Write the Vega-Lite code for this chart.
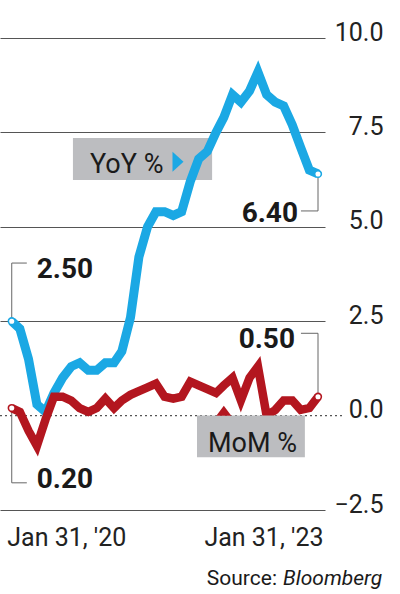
{
  "$schema": "https://vega.github.io/schema/vega-lite/v6.json",
  "description": "US CPI inflation, YoY % and MoM %, Jan 2020 to Jan 2023.",
  "width": 325,
  "height": 472,
  "autosize": {"type": "none"},
  "padding": {"left": 0, "top": 38, "right": 75, "bottom": 84},
  "background": "white",
  "config": {
    "view": {"stroke": null},
    "font": "Roboto, Liberation Sans, sans-serif"
  },
  "data": {
    "name": "cpi",
    "format": {"parse": {"date": "date"}},
    "values": [
      {"date": "2020-01-31T00:00:00", "yoy": 2.5, "mom": 0.2},
      {"date": "2020-02-29T00:00:00", "yoy": 2.3, "mom": 0.1},
      {"date": "2020-03-31T00:00:00", "yoy": 1.5, "mom": -0.4},
      {"date": "2020-04-30T00:00:00", "yoy": 0.3, "mom": -0.8},
      {"date": "2020-05-31T00:00:00", "yoy": 0.1, "mom": -0.1},
      {"date": "2020-06-30T00:00:00", "yoy": 0.6, "mom": 0.5},
      {"date": "2020-07-31T00:00:00", "yoy": 1.0, "mom": 0.5},
      {"date": "2020-08-31T00:00:00", "yoy": 1.3, "mom": 0.4},
      {"date": "2020-09-30T00:00:00", "yoy": 1.4, "mom": 0.2},
      {"date": "2020-10-31T00:00:00", "yoy": 1.2, "mom": 0.1},
      {"date": "2020-11-30T00:00:00", "yoy": 1.2, "mom": 0.2},
      {"date": "2020-12-31T00:00:00", "yoy": 1.4, "mom": 0.45},
      {"date": "2021-01-31T00:00:00", "yoy": 1.4, "mom": 0.2},
      {"date": "2021-02-28T00:00:00", "yoy": 1.7, "mom": 0.4},
      {"date": "2021-03-31T00:00:00", "yoy": 2.6, "mom": 0.55},
      {"date": "2021-04-30T00:00:00", "yoy": 4.2, "mom": 0.65},
      {"date": "2021-05-31T00:00:00", "yoy": 5.0, "mom": 0.75},
      {"date": "2021-06-30T00:00:00", "yoy": 5.4, "mom": 0.85},
      {"date": "2021-07-31T00:00:00", "yoy": 5.4, "mom": 0.5},
      {"date": "2021-08-31T00:00:00", "yoy": 5.3, "mom": 0.45},
      {"date": "2021-09-30T00:00:00", "yoy": 5.4, "mom": 0.5},
      {"date": "2021-10-31T00:00:00", "yoy": 6.2, "mom": 0.9},
      {"date": "2021-11-30T00:00:00", "yoy": 6.8, "mom": 0.8},
      {"date": "2021-12-31T00:00:00", "yoy": 7.0, "mom": 0.7},
      {"date": "2022-01-31T00:00:00", "yoy": 7.5, "mom": 0.6},
      {"date": "2022-02-28T00:00:00", "yoy": 7.9, "mom": 0.8},
      {"date": "2022-03-31T00:00:00", "yoy": 8.5, "mom": 1.0},
      {"date": "2022-04-30T00:00:00", "yoy": 8.3, "mom": 0.4},
      {"date": "2022-05-31T00:00:00", "yoy": 8.6, "mom": 1.0},
      {"date": "2022-06-30T00:00:00", "yoy": 9.1, "mom": 1.3},
      {"date": "2022-07-31T00:00:00", "yoy": 8.5, "mom": 0.0},
      {"date": "2022-08-31T00:00:00", "yoy": 8.3, "mom": 0.15},
      {"date": "2022-09-30T00:00:00", "yoy": 8.2, "mom": 0.4},
      {"date": "2022-10-31T00:00:00", "yoy": 7.7, "mom": 0.4},
      {"date": "2022-11-30T00:00:00", "yoy": 7.1, "mom": 0.15},
      {"date": "2022-12-31T00:00:00", "yoy": 6.5, "mom": 0.2},
      {"date": "2023-01-31T00:00:00", "yoy": 6.4, "mom": 0.5}
    ]
  },
  "layer": [
    {
      "data": {"values": [{}]},
      "mark": {"type": "rect", "color": "#bcbdc0"},
      "encoding": {
        "x": {"datum": {"year": 2020, "month": 9, "date": 6}, "type": "temporal"},
        "x2": {"datum": {"year": 2022, "month": 1, "date": 17}},
        "y": {"datum": 7.35, "type": "quantitative"},
        "y2": {"datum": 6.24}
      }
    },
    {
      "data": {"values": [{}]},
      "mark": {"type": "rule", "color": "#555555", "strokeDash": [2, 3], "strokeWidth": 1.3},
      "encoding": {
        "x": {"datum": {"year": 2019, "month": 12, "date": 20}, "type": "temporal"},
        "x2": {"datum": {"year": 2023, "month": 4, "date": 30}},
        "y": {"datum": 0, "type": "quantitative"}
      }
    },
    {
      "data": {"values": [{}]},
      "mark": {"type": "rule", "color": "#666666", "strokeWidth": 1},
      "encoding": {
        "x": {"datum": {"year": 2020, "month": 1, "date": 31}, "type": "temporal"},
        "y": {"datum": 2.5, "type": "quantitative"},
        "y2": {"datum": 4.04}
      }
    },
    {
      "data": {"values": [{}]},
      "mark": {"type": "rule", "color": "#666666", "strokeWidth": 1},
      "encoding": {
        "x": {"datum": {"year": 2020, "month": 1, "date": 31}, "type": "temporal"},
        "x2": {"datum": {"year": 2020, "month": 3, "date": 25}},
        "y": {"datum": 4.04, "type": "quantitative"}
      }
    },
    {
      "data": {"values": [{}]},
      "mark": {"type": "rule", "color": "#666666", "strokeWidth": 1},
      "encoding": {
        "x": {"datum": {"year": 2020, "month": 1, "date": 31}, "type": "temporal"},
        "y": {"datum": 0.2, "type": "quantitative"},
        "y2": {"datum": -1.78}
      }
    },
    {
      "data": {"values": [{}]},
      "mark": {"type": "rule", "color": "#666666", "strokeWidth": 1},
      "encoding": {
        "x": {"datum": {"year": 2020, "month": 1, "date": 31}, "type": "temporal"},
        "x2": {"datum": {"year": 2020, "month": 3, "date": 25}},
        "y": {"datum": -1.78, "type": "quantitative"}
      }
    },
    {
      "data": {"values": [{}]},
      "mark": {"type": "rule", "color": "#666666", "strokeWidth": 1},
      "encoding": {
        "x": {"datum": {"year": 2023, "month": 1, "date": 31}, "type": "temporal"},
        "y": {"datum": 6.4, "type": "quantitative"},
        "y2": {"datum": 5.42}
      }
    },
    {
      "data": {"values": [{}]},
      "mark": {"type": "rule", "color": "#666666", "strokeWidth": 1},
      "encoding": {
        "x": {"datum": {"year": 2022, "month": 12, "date": 1}, "type": "temporal"},
        "x2": {"datum": {"year": 2023, "month": 1, "date": 31}},
        "y": {"datum": 5.42, "type": "quantitative"}
      }
    },
    {
      "data": {"values": [{}]},
      "mark": {"type": "rule", "color": "#666666", "strokeWidth": 1},
      "encoding": {
        "x": {"datum": {"year": 2023, "month": 1, "date": 31}, "type": "temporal"},
        "y": {"datum": 0.5, "type": "quantitative"},
        "y2": {"datum": 2.18}
      }
    },
    {
      "data": {"values": [{}]},
      "mark": {"type": "rule", "color": "#666666", "strokeWidth": 1},
      "encoding": {
        "x": {"datum": {"year": 2022, "month": 12, "date": 1}, "type": "temporal"},
        "x2": {"datum": {"year": 2023, "month": 1, "date": 31}},
        "y": {"datum": 2.18, "type": "quantitative"}
      }
    },
    {
      "mark": {"type": "line", "color": "#1ba8e4", "strokeWidth": 9},
      "encoding": {
        "x": {
          "field": "date",
          "type": "temporal",
          "scale": {"domain": [{"year": 2019, "month": 12, "date": 20}, {"year": 2023, "month": 2, "date": 25}]},
          "axis": {
            "values": [{"year": 2020, "month": 1, "date": 31}, {"year": 2023, "month": 1, "date": 31}],
            "format": "%b %d, '%y",
            "title": null,
            "domain": false,
            "ticks": false,
            "grid": false,
            "labelFontSize": 25,
            "labelColor": "#222222",
            "labelBaseline": "alphabetic",
            "labelPadding": 35,
            "labelFlush": 15,
            "labelFlushOffset": 5
          }
        },
        "y": {
          "field": "yoy",
          "type": "quantitative",
          "scale": {"domain": [-2.5, 10], "nice": false, "zero": false},
          "axis": {
            "orient": "right",
            "values": [-2.5, 0, 2.5, 5, 7.5, 10],
            "format": ".1f",
            "title": null,
            "domain": false,
            "ticks": false,
            "grid": true,
            "gridColor": "#555555",
            "gridWidth": 1,
            "gridOpacity": {"condition": {"test": "datum.value === 0", "value": 0}, "value": 1},
            "labelFontSize": 25,
            "labelColor": "#222222",
            "labelAlign": "right",
            "labelBaseline": "alphabetic",
            "labelPadding": 58,
            "labelOffset": 2
          }
        }
      }
    },
    {
      "mark": {"type": "line", "color": "#b3161f", "strokeWidth": 8.5},
      "encoding": {
        "x": {"field": "date", "type": "temporal"},
        "y": {"field": "mom", "type": "quantitative"}
      }
    },
    {
      "data": {"values": [{}]},
      "mark": {"type": "rect", "color": "#bcbdc0"},
      "encoding": {
        "x": {"datum": {"year": 2021, "month": 11, "date": 24}, "type": "temporal"},
        "x2": {"datum": {"year": 2022, "month": 12, "date": 15}},
        "y": {"datum": 0, "type": "quantitative"},
        "y2": {"datum": -1.1}
      }
    },
    {
      "data": {"values": [{}]},
      "mark": {"type": "point", "shape": "M-0.55,-1L0.55,0L-0.55,1Z", "filled": true, "color": "#1ba8e4", "size": 400, "opacity": 1},
      "encoding": {
        "x": {"datum": {"year": 2021, "month": 9, "date": 17}, "type": "temporal"},
        "y": {"datum": 6.72, "type": "quantitative"}
      }
    },
    {
      "data": {"values": [{}]},
      "mark": {"type": "point", "shape": "M-0.75,0.5L0,-0.5L0.75,0.5Z", "filled": true, "color": "#b3161f", "size": 400, "opacity": 1},
      "encoding": {
        "x": {"datum": {"year": 2022, "month": 2, "date": 28}, "type": "temporal"},
        "y": {"datum": 0.13, "type": "quantitative"}
      }
    },
    {
      "transform": [{"filter": "datum.date <= datetime(2020, 0, 31) || datum.date >= datetime(2023, 0, 31)"}],
      "mark": {"type": "point", "filled": true, "fill": "white", "stroke": "#1ba8e4", "strokeWidth": 1.6, "size": 45, "opacity": 1},
      "encoding": {
        "x": {"field": "date", "type": "temporal"},
        "y": {"field": "yoy", "type": "quantitative"}
      }
    },
    {
      "transform": [{"filter": "datum.date <= datetime(2020, 0, 31) || datum.date >= datetime(2023, 0, 31)"}],
      "mark": {"type": "point", "filled": true, "fill": "white", "stroke": "#b3161f", "strokeWidth": 1.6, "size": 45, "opacity": 1},
      "encoding": {
        "x": {"field": "date", "type": "temporal"},
        "y": {"field": "mom", "type": "quantitative"}
      }
    },
    {
      "data": {"values": [{"label": "YoY %"}]},
      "mark": {"type": "text", "align": "left", "baseline": "alphabetic", "fontSize": 27, "color": "#1a1a1a"},
      "encoding": {
        "x": {"datum": {"year": 2020, "month": 11, "date": 6}, "type": "temporal"},
        "y": {"datum": 6.42, "type": "quantitative"},
        "text": {"field": "label"}
      }
    },
    {
      "data": {"values": [{"label": "MoM %"}]},
      "mark": {"type": "text", "align": "left", "baseline": "alphabetic", "fontSize": 27, "color": "#1a1a1a"},
      "encoding": {
        "x": {"datum": {"year": 2022, "month": 1, "date": 2}, "type": "temporal"},
        "y": {"datum": -0.96, "type": "quantitative"},
        "text": {"field": "label"}
      }
    },
    {
      "transform": [{"filter": "datum.date <= datetime(2020, 0, 31)"}],
      "mark": {"type": "text", "align": "left", "baseline": "alphabetic", "dx": 25, "dy": -43, "fontSize": 28, "fontWeight": "bold", "color": "#1a1a1a"},
      "encoding": {
        "x": {"field": "date", "type": "temporal"},
        "y": {"field": "yoy", "type": "quantitative"},
        "text": {"field": "yoy", "type": "quantitative", "format": ".2f"}
      }
    },
    {
      "transform": [{"filter": "datum.date <= datetime(2020, 0, 31)"}],
      "mark": {"type": "text", "align": "left", "baseline": "alphabetic", "dx": 25, "dy": 80, "fontSize": 28, "fontWeight": "bold", "color": "#1a1a1a"},
      "encoding": {
        "x": {"field": "date", "type": "temporal"},
        "y": {"field": "mom", "type": "quantitative"},
        "text": {"field": "mom", "type": "quantitative", "format": ".2f"}
      }
    },
    {
      "transform": [{"filter": "datum.date >= datetime(2023, 0, 31)"}],
      "mark": {"type": "text", "align": "right", "baseline": "alphabetic", "dx": -20, "dy": 48, "fontSize": 28, "fontWeight": "bold", "color": "#1a1a1a"},
      "encoding": {
        "x": {"field": "date", "type": "temporal"},
        "y": {"field": "yoy", "type": "quantitative"},
        "text": {"field": "yoy", "type": "quantitative", "format": ".2f"}
      }
    },
    {
      "transform": [{"filter": "datum.date >= datetime(2023, 0, 31)"}],
      "mark": {"type": "text", "align": "right", "baseline": "alphabetic", "dx": -23, "dy": -49, "fontSize": 28, "fontWeight": "bold", "color": "#1a1a1a"},
      "encoding": {
        "x": {"field": "date", "type": "temporal"},
        "y": {"field": "mom", "type": "quantitative"},
        "text": {"field": "mom", "type": "quantitative", "format": ".2f"}
      }
    },
    {
      "data": {"values": [{"label": "Source:"}]},
      "mark": {"type": "text", "align": "right", "baseline": "alphabetic", "dx": -41, "dy": 75, "fontSize": 21, "color": "#1a1a1a"},
      "encoding": {
        "x": {"datum": {"year": 2023, "month": 1, "date": 31}, "type": "temporal"},
        "y": {"datum": -2.5, "type": "quantitative"},
        "text": {"field": "label"}
      }
    },
    {
      "data": {"values": [{"label": "Bloomberg"}]},
      "mark": {"type": "text", "align": "left", "baseline": "alphabetic", "dx": -35, "dy": 75, "fontSize": 21, "fontStyle": "italic", "color": "#1a1a1a"},
      "encoding": {
        "x": {"datum": {"year": 2023, "month": 1, "date": 31}, "type": "temporal"},
        "y": {"datum": -2.5, "type": "quantitative"},
        "text": {"field": "label"}
      }
    }
  ]
}
